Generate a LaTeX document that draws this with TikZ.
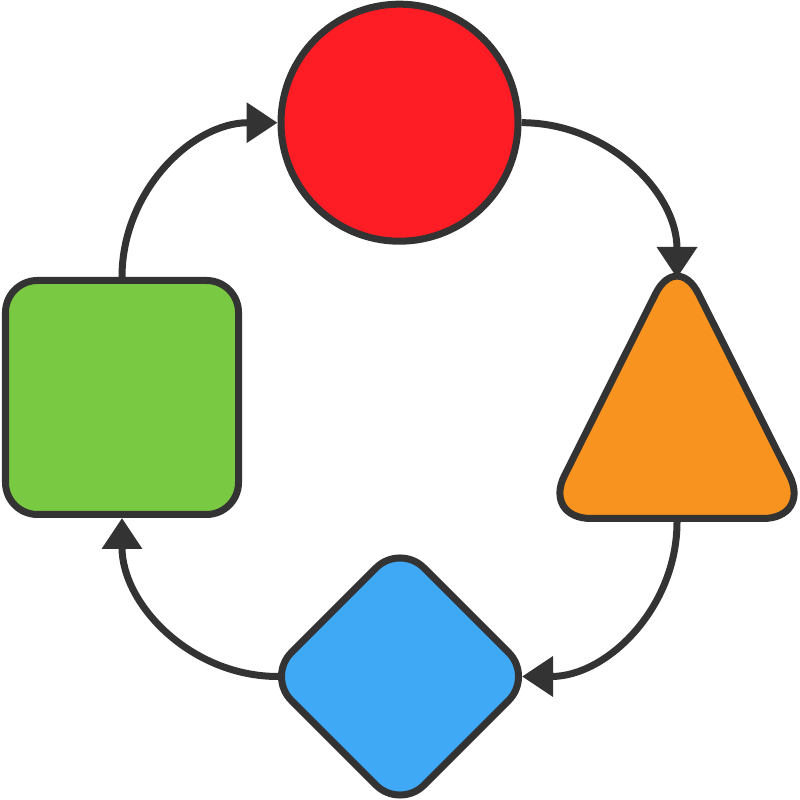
\documentclass[tikz,border=0pt]{standalone}
\usepackage{tikz}
\usetikzlibrary{arrows.meta}

\definecolor{rojo}{HTML}{FF1D25}
\definecolor{naranja}{HTML}{F7931E}
\definecolor{verde}{HTML}{7AC943}
\definecolor{azul}{HTML}{3FA9F5}
\definecolor{borde}{HTML}{333333}

\begin{document}
\begin{tikzpicture}[line width= 0.07cm, draw= borde]
	\useasboundingbox (0,0) rectangle (7.99,8);

	% circulo
	\node [circle, draw= borde, fill= rojo, minimum size= 2.37cm, inner sep= 0] (circulo) at (3.995,6.773) {};

	% cuadrado
	\node [rectangle, rounded corners= 0.32cm, draw= borde, fill= verde, minimum width= 2.33cm, minimum height= 2.34cm, inner sep= 0] (cuadrado) at (1.22,4.025) {};

	% triangulo
	\draw [fill= naranja, rounded corners= 0.48cm] (6.77,2.815) -- (5.43,2.815) -- (6.77,5.49) -- (8.11,2.815) -- cycle;
	\coordinate (tripunta) at (6.77,5.22);
	\coordinate (tribase) at (6.77,2.78);

	% rombo
	\draw [fill= azul, rounded corners= 0.34cm] (3.337,1.898) -- (4,2.561) -- (5.326,1.235) -- (4,-0.091) -- (2.674,1.235) -- cycle;
	\coordinate (romboeste) at (5.22,1.235);
	\coordinate (rombooeste) at (2.78,1.235);

	% flechas
	\draw [arrows= -{Triangle[length= 3.1mm, width= 3.9mm]}] (circulo.east) to [out= 0, in= 90] (tripunta);
	\draw [arrows= -{Triangle[length= 3.1mm, width= 3.9mm]}] (tribase) to [out= -90, in= 0] (romboeste);
	\draw [arrows= -{Triangle[length= 3.1mm, width= 3.9mm]}] (rombooeste) to [out= 180, in= -90] (cuadrado.south);
	\draw [arrows= -{Triangle[length= 3.1mm, width= 3.9mm]}] (cuadrado.north) to [out= 90, in= 180] (circulo.west);
\end{tikzpicture}
\end{document}
